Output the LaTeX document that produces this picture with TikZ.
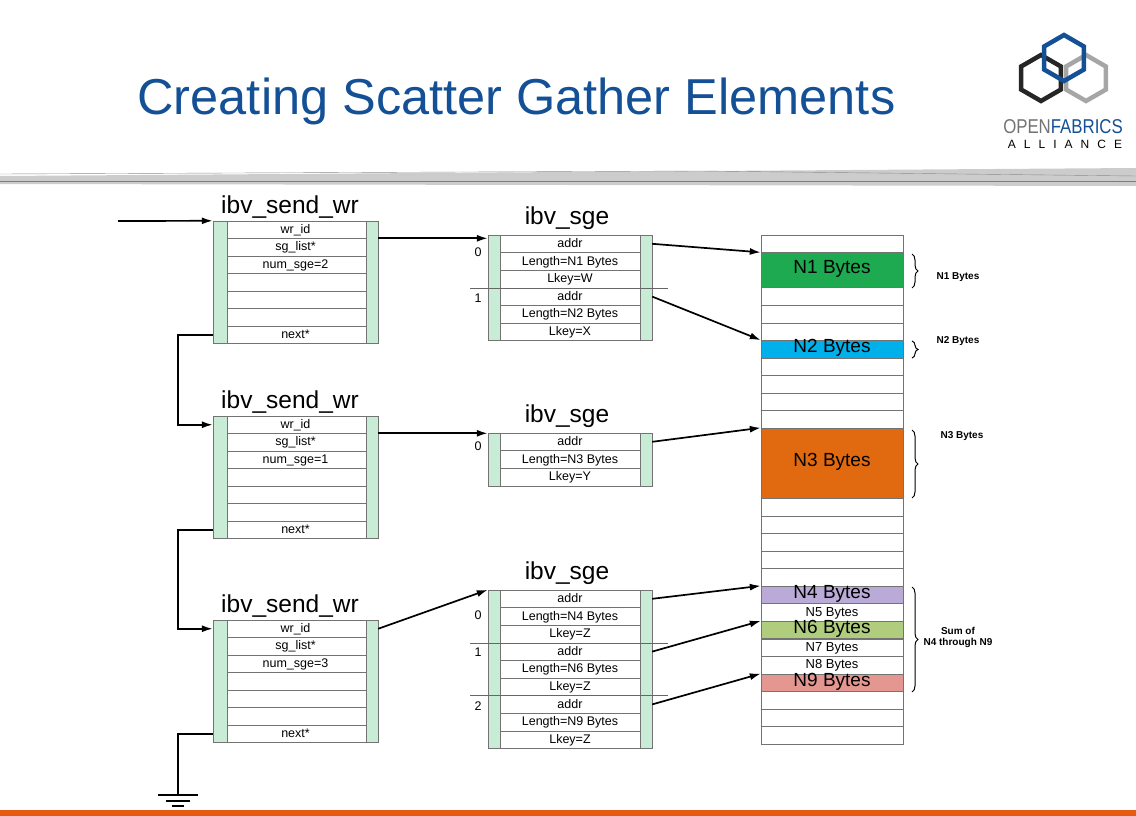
\documentclass[tikz,border=0pt]{standalone}
\usepackage{fontspec}
\setmainfont{Liberation Sans}
\usetikzlibrary{arrows.meta,decorations.pathreplacing}

\definecolor{stripc}{RGB}{200,236,214}
\definecolor{titleblue}{RGB}{20,80,150}
\definecolor{ofaorange}{RGB}{230,90,20}
\definecolor{nonec}{RGB}{30,170,80}
\definecolor{ntwoc}{RGB}{0,176,235}
\definecolor{nthreec}{RGB}{225,105,15}
\definecolor{nfourc}{RGB}{185,170,215}
\definecolor{nsixc}{RGB}{175,205,125}
\definecolor{nninec}{RGB}{228,150,145}

\tikzset{
  row/.style={draw=black!55, minimum width=165pt, minimum height=17.5pt, inner sep=0pt, text height=0.72em, text depth=0pt, font=\fontsize{12.5}{12.5}\selectfont},
  sgerow/.style={draw=black!55, minimum width=164pt, minimum height=17.6pt, inner sep=0pt, text height=0.72em, text depth=0pt, font=\fontsize{12.5}{12.5}\selectfont},
  mem/.style={draw=black!55, minimum width=142pt, minimum height=17.55pt, inner sep=0pt, text height=0.72em, text depth=0pt},
  big/.style={font=\fontsize{19}{19}\selectfont},
  small/.style={font=\fontsize{13}{13}\selectfont},
  strip/.style={fill=stripc, draw=black!55},
  stitle/.style={font=\fontsize{24.5}{24.5}\selectfont},
  idx/.style={font=\fontsize{12.5}{12.5}\selectfont},
  blab/.style={font=\bfseries\fontsize{10}{11}\selectfont, align=center, anchor=west},
  ptr/.style={line width=1.7pt, -{Latex[length=11pt,width=7pt]}},
  brc/.style={decorate, decoration={brace, amplitude=6pt}, line width=1pt},
  hex/.style={line width=4.5pt, line join=miter},
}

% ibv_send_wr box: name, top, num_sge
\newcommand{\sendwr}[3]{%
  \node[stitle] (#1t) at (290,#2-14) {ibv\_send\_wr};
  \foreach \txt [count=\i from 0] in {wr\_id, sg\_list*, num\_sge=#3, , , , next*}
    \node[row] (#1r\i) at (295.5,#2+8.75+17.5*\i) {\txt};
  \draw[strip] (213,#2) rectangle (227,#2+122.5);
  \draw[strip] (366,#2) rectangle (378,#2+122.5);
}

% ibv_sge box: name, top, rows, height
\newcommand{\sgebox}[4]{%
  \node[stitle] (#1t) at (567,#2-17) {ibv\_sge};
  \foreach \txt [count=\i from 0] in {#3}
    \node[sgerow] (#1r\i) at (570,#2+8.8+17.6*\i) {\txt};
  \draw[strip] (488,#2) rectangle (500,#2+#4);
  \draw[strip] (640,#2) rectangle (652,#2+#4);
}

\newcommand{\hexa}[3]{%
  \draw[hex, #3, shift={(#1,#2)}] (30:23) -- (90:23) -- (150:23) -- (210:23) -- (270:23) -- (330:23) -- cycle;
}

\begin{document}
\begin{tikzpicture}[x=1pt,y=-1pt]
\useasboundingbox (0,0) rectangle (1136,816);

% title and logo
\node[anchor=west, text=titleblue, font=\fontsize{50.5}{50.5}\selectfont] (title) at (134,101) {Creating Scatter Gather Elements};
\hexa{1086}{78}{black!35}
\hexa{1041}{78}{black!85}
\hexa{1064}{58}{titleblue}
\node[font=\fontsize{20}{20}\selectfont, xscale=0.84] (ofa) at (1063,127) {\textcolor{black!55}{OPEN}\textcolor{titleblue}{FABRICS}};
\node[font=\fontsize{12}{12}\selectfont] (alli) at (1065,144) {A\hspace{8pt}L\hspace{8pt}L\hspace{8pt}I\hspace{8pt}A\hspace{8pt}N\hspace{8pt}C\hspace{8pt}E};
\fill[black!20] (0,176) -- (1136,168) -- (1136,186) -- (0,184) -- cycle;
\draw[black!45] (0,174) -- (700,171) -- (1136,176);
\draw[ofaorange, thick] (0,181) -- (1136,181);
\fill[ofaorange] (0,810) rectangle (1136,816);

% send work requests
\sendwr{s1}{221}{2}
\sendwr{s2}{416}{1}
\sendwr{s3}{620}{3}

% scatter gather lists
\sgebox{g1}{235}{addr, Length=N1 Bytes, Lkey=W, addr, Length=N2 Bytes, Lkey=X}{105.6}
\sgebox{g2}{433}{addr, Length=N3 Bytes, Lkey=Y}{52.8}
\sgebox{g3}{590}{addr, Length=N4 Bytes, Lkey=Z, addr, Length=N6 Bytes, Lkey=Z, addr, Length=N9 Bytes, Lkey=Z}{158.4}
\node[idx] (i10) at (478,252) {0};
\node[idx] (i11) at (478,298) {1};
\node[idx] (i20) at (478,446) {0};
\node[idx] (i30) at (478,615) {0};
\node[idx] (i31) at (478,652) {1};
\node[idx] (i32) at (478,706) {2};
\draw[black!60] (470,288.2) -- (668,288.2);
\draw[black!60] (470,642.8) -- (668,642.8);
\draw[black!60] (470,695.6) -- (668,695.6);

% memory
\foreach \i in {0,...,28}
  \node[mem] (m\i) at (832,243.8+17.55*\i) {};
\node[mem, fill=nonec, minimum height=35.1pt, big] (n1) at (832,270.1) {N1 Bytes};
\node[mem, fill=ntwoc, big] (n2) at (832,349.1) {N2 Bytes};
\node[mem, fill=nthreec, minimum height=70.2pt, big] (n3) at (832,463.1) {N3 Bytes};
\node[mem, fill=nfourc, big] (n4) at (832,594.8) {N4 Bytes};
\node[mem, small] (n5) at (832,612.4) {N5 Bytes};
\node[mem, fill=nsixc, big] (n6) at (832,629.9) {N6 Bytes};
\node[mem, small] (n7) at (832,647.5) {N7 Bytes};
\node[mem, small] (n8) at (832,665.0) {N8 Bytes};
\node[mem, fill=nninec, big] (n9) at (832,682.6) {N9 Bytes};

% braces
\draw[brc] (912,254) -- (912,288);
\draw[brc] (912,341) -- (912,358);
\draw[brc] (912,430) -- (912,498);
\draw[brc] (912,587) -- (912,692);
\node[blab] (l1) at (933,277) {N1 Bytes};
\node[blab] (l2) at (933,341) {N2 Bytes};
\node[blab] (l3) at (937,436) {N3 Bytes};
\node[blab] (l4) at (920,637) {Sum of\\N4 through N9};

% pointers
\coordinate (in) at (118,221);
\coordinate (gnd) at (178,795);
\draw[ptr] (in) -- (s1r0.north west);
\draw[ptr] (s1r1.north east) -- (g1r0.west |- s1r1.north east);
\draw[ptr] (s2r1.north east) -- (g2r0.west |- s2r1.north east);
\draw[ptr] (s3r0.east) -- (g3r0.north west);
\draw[ptr] (s1r6.west) -- ++(-35,0) |- (s2r0.west);
\draw[ptr] (s2r6.west) -- ++(-35,0) |- (s3r0.west);
\draw[line width=1.7pt] (s3r6.west) -| (gnd);
\draw[line width=1.7pt] (158,795) -- (198,795) (166,801) -- (190,801) (172,806) -- (184,806);
\draw[ptr] (g1r0.east) -- (n1.north west);
\draw[ptr] (g1r3.east) -- (n2.north west);
\draw[ptr] (g2r0.east) -- (n3.north west);
\draw[ptr] (g3r0.east) -- (n4.north west);
\draw[ptr] (g3r3.east) -- (n6.north west);
\draw[ptr] (g3r6.east) -- (n9.north west);
\end{tikzpicture}
\end{document}
